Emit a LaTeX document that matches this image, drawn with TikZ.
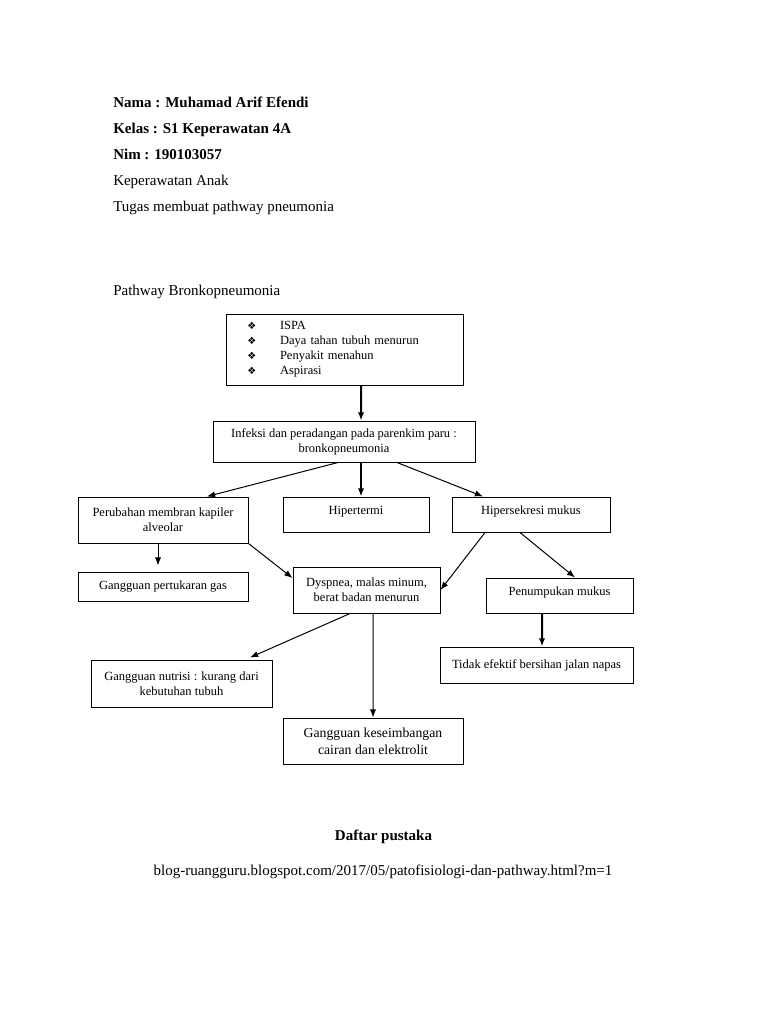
\documentclass[tikz,border=0pt]{standalone}
\usepackage{fontspec}
\setmainfont{Liberation Serif}
\newfontfamily\simbol{DejaVu Sans}
\usetikzlibrary{calc}
\usetikzlibrary{arrows.meta}
\tikzset{>={Latex[length=6.5pt,width=5pt]}}
\tikzset{kotak/.style 2 args = {shape=rectangle,draw,line width=0.8pt,inner sep=0pt,align=center,minimum width=#1,minimum height=#2,font=\fontsize{10}{12}\selectfont}}
\tikzset{satu/.style = {text height=7pt,text depth=7pt}}
\tikzset{teks/.style = {anchor=base west,inner sep=0pt,font=\fontsize{12}{14}\selectfont}}
\tikzset{panah/.style = {->,line width=0.8pt}}
\tikzset{tebal/.style = {->,line width=1.6pt}}
\newcommand{\butir}{\hspace*{17pt}\makebox[26.2pt][l]{\simbol\fontsize{8}{8}\selectfont ❖}}

\begin{document}
\begin{tikzpicture}[x=0.8pt,y=-0.8pt]
                    \path[fill=white,use as bounding box] (0,0) rectangle (768,1024);

                    \node[teks] (nama) at (113,108) {\textbf{Nama : Muhamad Arif Efendi}};
                    \node[teks] (kelas) at (113,134) {\textbf{Kelas : S1 Keperawatan 4A}};
                    \node[teks] (nim) at (113,160) {\textbf{Nim : 190103057}};
                    \node[teks] (matkul) at (113,186) {Keperawatan Anak};
                    \node[teks] (tugas) at (113,212) {Tugas membuat pathway pneumonia};
                    \node[teks] (judul) at (113,295) {Pathway Bronkopneumonia};

                    \node[kotak={189.6pt}{56.8pt},align=left,text width=189.6pt] (faktor) at (344.5,349.5) {\butir ISPA\\\butir Daya tahan tubuh menurun\\\butir Penyakit menahun\\\butir Aspirasi};
                    \node[kotak={209.6pt}{32.8pt}] (infeksi) at (344,441.5) {Infeksi dan peradangan pada parenkim paru :\\bronkopneumonia};

                    \node[kotak={136pt}{36.8pt}] (perubahan) at (163,520) {Perubahan membran kapiler\\alveolar};
                    \node[kotak={116.8pt}{28pt},satu] (hipertermi) at (356,514.5) {Hipertermi};
                    \node[kotak={126.4pt}{28pt},satu] (hipersekresi) at (531,514.5) {Hipersekresi mukus};

                    \node[kotak={136pt}{23.2pt}] (pertukaran) at (163,586.5) {Gangguan pertukaran gas};
                    \node[kotak={117.6pt}{36.8pt}] (dyspnea) at (366.5,590) {Dyspnea, malas minum,\\berat badan menurun};
                    \node[kotak={117.6pt}{28pt},satu] (penumpukan) at (559.5,595.5) {Penumpukan mukus};

                    \node[kotak={154.4pt}{28.8pt}] (tidak) at (536.5,665) {Tidak efektif bersihan jalan napas};
                    \node[kotak={144.8pt}{37.6pt}] (nutrisi) at (181.5,683.5) {Gangguan nutrisi : kurang dari\\kebutuhan tubuh};
                    \node[kotak={144pt}{36.8pt},font=\fontsize{11}{13.6}\selectfont] (keseimbangan) at (373,741) {Gangguan keseimbangan\\cairan dan elektrolit};

                    \node[teks,anchor=base] (pustaka) at (383.5,840) {\textbf{Daftar pustaka}};
                    \node[teks,anchor=base] (url) at (383,875) {blog-ruangguru.blogspot.com/2017/05/patofisiologi-dan-pathway.html?m=1};

                    \draw[tebal] ($(faktor.south)+(16.5,0)$) -- ($(infeksi.north)+(17,0)$);
                    \draw[panah] ($(infeksi.south)+(-6,0)$) -- ($(perubahan.north)+(44,0)$);
                    \draw[tebal] ($(infeksi.south)+(17,0)$) -- ($(hipertermi.north)+(5,0)$);
                    \draw[panah] ($(infeksi.south)+(53,0)$) -- ($(hipersekresi.north)+(-48,0)$);
                    \draw[panah] ($(perubahan.south)+(-5,0)$) -- ($(pertukaran.north)+(-5,-6)$);
                    \draw[panah] (perubahan.south east) -- ($(dyspnea.west)+(0,-12)$);
                    \draw[panah] ($(hipersekresi.south)+(-46,0)$) -- (dyspnea.east);
                    \draw[panah] ($(hipersekresi.south)+(-11,0)$) -- ($(penumpukan.north)+(15.5,0)$);
                    \draw[tebal] ($(penumpukan.south)+(-17.5,0)$) -- ($(tidak.north)+(5.5,0)$);
                    \draw[panah] ($(dyspnea.south)+(-16.5,0)$) -- ($(nutrisi.north)+(68.5,-2)$);
                    \draw[panah] ($(dyspnea.south)+(6.5,0)$) -- (keseimbangan.north);
\end{tikzpicture}
\end{document}
